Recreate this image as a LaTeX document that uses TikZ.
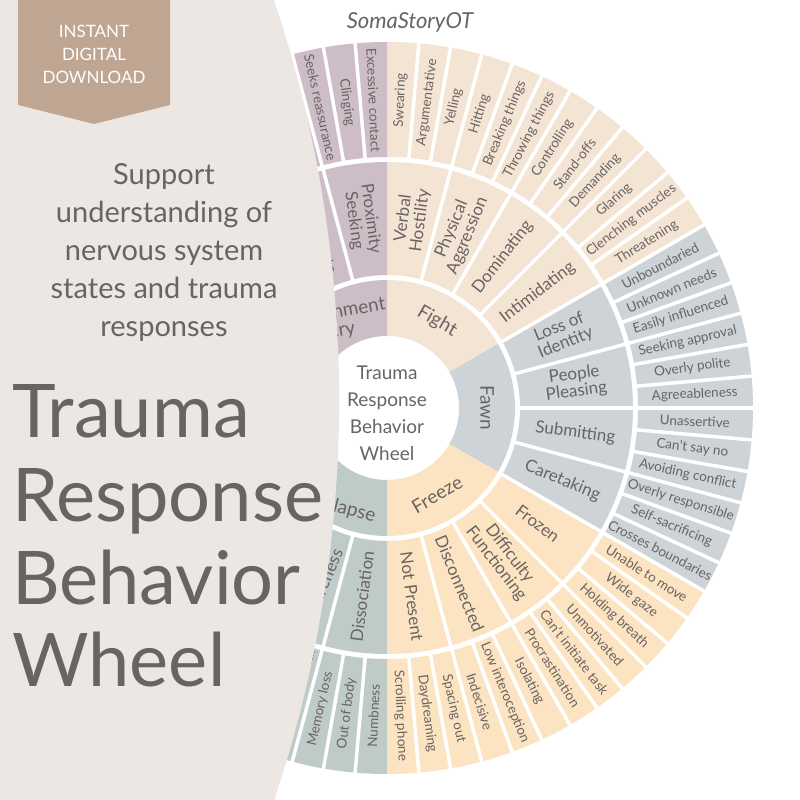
\documentclass[tikz,border=0pt]{standalone}
\usepackage{fontspec}
\setmainfont{Lato}
\begin{document}
\definecolor{fightc}{HTML}{F4E4D4}
\definecolor{fawnc}{HTML}{CDD3D6}
\definecolor{freezec}{HTML}{FCE4C2}
\definecolor{collc}{HTML}{BECBC8}
\definecolor{attc}{HTML}{CDBDC6}
\definecolor{panelc}{HTML}{EDE7E4}
\definecolor{badgec}{HTML}{BFA693}
\definecolor{txt}{HTML}{6A6461}
\begin{tikzpicture}[x=1pt,y=1pt,
  outer/.style={font=\fontsize{13.5}{14}\selectfont,text=txt,inner sep=0pt},
  mid/.style={font=\fontsize{17}{17}\selectfont,text=txt,align=center,inner sep=0pt},
  inn/.style={font=\fontsize{19}{19}\selectfont,text=txt,align=center,inner sep=0pt},
  side/.style={font=\fontsize{29}{38}\selectfont,text=txt,align=center},
  title/.style={font=\fontsize{74}{74}\selectfont,text=txt,anchor=base west,inner sep=0pt}]
\fill[white] (0,0) rectangle (800,800);
\useasboundingbox (0,0) rectangle (800,800);
\begin{scope}[shift={(387,392)}]
\newcommand\sect[5]{\fill[#1] (#2:#4) arc[start angle=#2,end angle=#3,radius=#4] -- (#3:#5) arc[start angle=#3,end angle=#2,radius=#5] -- cycle;}
\foreach \ra/\rb in {72/128,133/246,251/366}{
  \sect{fightc}{30}{90}{\ra}{\rb}
  \sect{fawnc}{-30}{30}{\ra}{\rb}
  \sect{freezec}{-90}{-30}{\ra}{\rb}
  \sect{collc}{-180}{-90}{\ra}{\rb}
  \sect{attc}{90}{180}{\ra}{\rb}
}
\foreach \k in {1,...,71}{
  \pgfmathsetmacro\a{90-5*\k}
  \ifnum\k=36\relax\else
  \draw[white,line width=3.5] (\a:249) -- (\a:368);\fi
}
\foreach \k in {1,...,23}{
  \pgfmathsetmacro\a{90-15*\k}
  \ifnum\k=12\relax\else
  \draw[white,line width=3.5] (\a:131) -- (\a:248);\fi
}
\foreach \t [count=\i] in {Swearing,Argumentative,Yelling,Hitting,Breaking things,Throwing things,Controlling,Stand-offs,Demanding,Glaring,Clenching muscles,Threatening,Unboundaried,Unknown needs,Easily influenced,Seeking approval,Overly polite,Agreeableness,Unassertive,Can't say no,Avoiding conflict,Overly responsible,Self-sacrificing,Crosses boundaries,Unable to move,Wide gaze,Holding breath,Unmotivated,Can't initiate task,Procrastination,Isolating,Low interoception,Indecisive,Spacing out,Daydreaming,Scrolling phone}{
  \pgfmathsetmacro\a{92.5-5*\i}
  \node[outer,rotate=\a] (o\i) at (\a:308) {\t};
}
\foreach \t [count=\i] in {Numbness,Out of body,Memory loss,World feels unreal}{
  \pgfmathsetmacro\a{-87.5-5*\i}
  \node[outer,rotate=\a+180] (c\i) at (\a:308) {\t};
}
\foreach \t [count=\i] in {Excessive contact,Clinging,Seeks reassurance,High voice}{
  \pgfmathsetmacro\a{87.5+5*\i}
  \node[outer,rotate=\a-180] (h\i) at (\a:308) {\t};
}
\foreach \t [count=\i] in {Verbal\\Hostility,Physical\\Aggression,Dominating,Intimidating,Loss of\\Identity,People\\Pleasing,Submitting,Caretaking,Frozen,Difficulty\\Functioning,Disconnected,Not Present}{
  \pgfmathsetmacro\a{97.5-15*\i}
  \node[mid,rotate=\a] (m\i) at (\a:190) {\t};
}
\node[mid,rotate=82.5] (d1) at (-97.5:190) {Dissociation};
\node[mid,rotate=67.5] (d2) at (-112.5:190) {Reduced\\Awareness};
\node[mid,rotate=-82.5] (p1) at (97.5:190) {Proximity\\Seeking};
\node[mid,rotate=-67.5] (p2) at (112.5:190) {Young Parts};
\node[inn,rotate=-30] (fi) at (60:100) {Fight};
\node[inn,rotate=-90] (fa) at (0:100) {Fawn};
\node[inn,rotate=30] (fr) at (-60:100) {Freeze};
\node[inn,rotate=-15] (co) at (-46,-100) {Collapse};
\node[inn,rotate=10] (at) at (-48,86) {Attachment\\Cry};
\node[font=\fontsize{19}{27}\selectfont,text=txt,align=center] (ctr) at (0,-5) {Trauma\\Response\\Behavior\\Wheel};
\end{scope}
\node[font=\itshape\fontsize{22}{22}\selectfont,text=txt] (logo) at (410,778) {SomaStoryOT};
\fill[panelc] (0,800) -- (274,800) arc[start angle=18.48,end angle=-18.48,radius=1263] -- (0,0) -- cycle;
\fill[badgec] (18,800) -- (170,800) -- (170,695) -- (94,676) -- (18,695) -- cycle;
\node[font=\fontsize{17}{23}\selectfont,text=white,align=center] (badge) at (94,746) {INSTANT\\DIGITAL\\DOWNLOAD};
\node[side] (sub) at (164,548) {Support\\understanding of\\nervous system\\states and trauma\\responses};
\node[title] (t1) at (12,362) {Trauma};
\node[title] (t2) at (12,278) {Response};
\node[title] (t3) at (12,195) {Behavior};
\node[title] (t4) at (12,113) {Wheel};
\end{tikzpicture}
\end{document}
